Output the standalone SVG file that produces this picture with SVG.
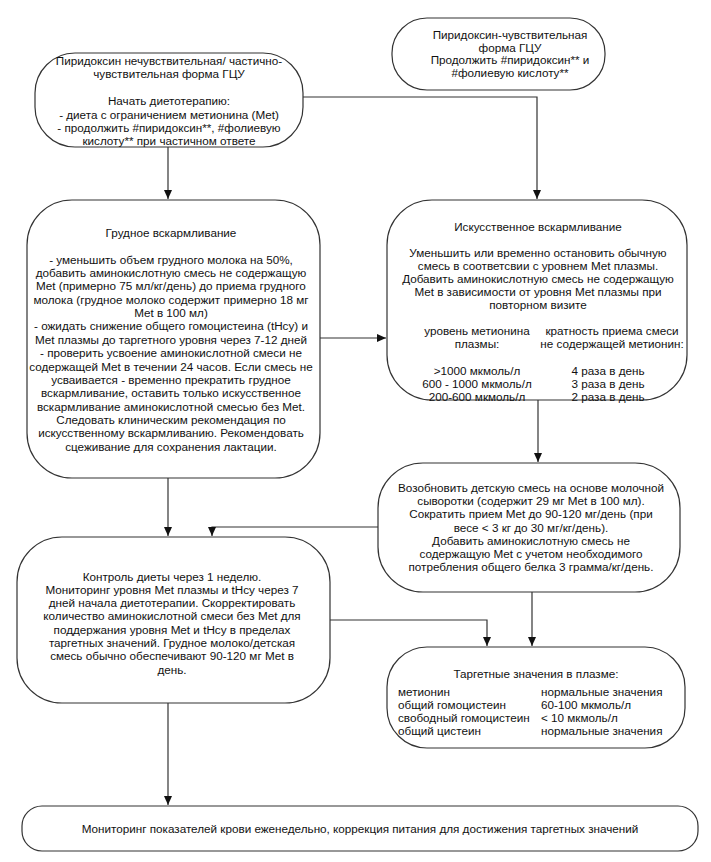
<svg xmlns="http://www.w3.org/2000/svg" width="711" height="862" viewBox="0 0 711 862">
<defs>
<style>
.n{fill:#fff;stroke:#333;stroke-width:1.2}
.t{font-family:"Liberation Sans",Arial,Helvetica,sans-serif;font-size:11.7px;fill:#111;text-anchor:middle}
.l{font-family:"Liberation Sans",Arial,Helvetica,sans-serif;font-size:11.7px;fill:#111;text-anchor:start}
.c{fill:none;stroke:#333;stroke-width:1.2}
</style>
<marker id="a" markerUnits="userSpaceOnUse" markerWidth="10" markerHeight="8" refX="9" refY="4" orient="auto">
<path d="M0,0 L9,4 L0,8 z" fill="#111"/>
</marker>
</defs>
<rect width="711" height="862" fill="#fff"/>
<g id="connectors">
<path class="c" d="M168,147 V199" marker-end="url(#a)"/>
<path class="c" d="M303,97 H537 V199" marker-end="url(#a)"/>
<path class="c" d="M320,338 H386" marker-end="url(#a)"/>
<path class="c" d="M538,400 V462" marker-end="url(#a)"/>
<path class="c" d="M168,478 V536" marker-end="url(#a)"/>
<path class="c" d="M378,527 H212 V536" marker-end="url(#a)"/>
<path class="c" d="M330,620 H487 V646" marker-end="url(#a)"/>
<path class="c" d="M532,592 V646" marker-end="url(#a)"/>
<path class="c" d="M168,703 V805" marker-end="url(#a)"/>
</g>
<g id="n1">
<rect class="n" x="35" y="53" width="268" height="94" rx="40" ry="40"/>
<text class="t" x="169" y="65"><tspan x="169">Пиридоксин нечувствительная/ частично-</tspan><tspan x="169" dy="13.4">чувствительная форма ГЦУ</tspan><tspan x="169" dy="26.8">Начать диетотерапию:</tspan><tspan x="169" dy="13.4">- диета с ограничением метионина (Met)</tspan><tspan x="169" dy="13.4">- продолжить #пиридоксин**, #фолиевую</tspan><tspan x="169" dy="13.4">кислоту** при частичном ответе</tspan></text>
</g>
<g id="n2">
<rect class="n" x="392" y="18" width="213" height="72" rx="35" ry="35"/>
<text class="t" x="510" y="39"><tspan x="510">Пиридоксин-чувствительная</tspan><tspan x="510" dy="12.7">форма ГЦУ</tspan><tspan x="510" dy="12.7">Продолжить #пиридоксин** и</tspan><tspan x="510" dy="12.7">#фолиевую кислоту**</tspan></text>
</g>
<g id="n3">
<rect class="n" x="27" y="200" width="293" height="278" rx="45" ry="45"/>
<text class="t" x="171" y="237"><tspan x="171">Грудное вскармливание</tspan><tspan x="171" dy="26.7">- уменьшить объем грудного молока на 50%,</tspan><tspan x="171" dy="13.35">добавить аминокислотную смесь не содержащую</tspan><tspan x="171" dy="13.35">Met (примерно 75 мл/кг/день) до приема грудного</tspan><tspan x="171" dy="13.35">молока (грудное молоко содержит примерно 18 мг</tspan><tspan x="171" dy="13.35">Met в 100 мл)</tspan><tspan x="171" dy="13.35">- ожидать снижение общего гомоцистеина (tHcy) и</tspan><tspan x="171" dy="13.35">Met плазмы до таргетного уровня через 7-12 дней</tspan><tspan x="171" dy="13.35">- проверить усвоение аминокислотной смеси не</tspan><tspan x="171" dy="13.35">содержащей Met в течении 24 часов. Если смесь не</tspan><tspan x="171" dy="13.35">усваивается - временно прекратить грудное</tspan><tspan x="171" dy="13.35">вскармливание, оставить только искусственное</tspan><tspan x="171" dy="13.35">вскармливание аминокислотной смесью без Met.</tspan><tspan x="171" dy="13.35">Следовать клиническим рекомендация по</tspan><tspan x="171" dy="13.35">искусственному вскармливанию. Рекомендовать</tspan><tspan x="171" dy="13.35">сцеживание для сохранения лактации.</tspan></text>
</g>
<g id="n4">
<rect class="n" x="387" y="200" width="300" height="200" rx="45" ry="45"/>
<text class="t" x="538" y="230.5"><tspan x="538">Искусственное вскармливание</tspan><tspan x="538" dy="26.2">Уменьшить или временно остановить обычную</tspan><tspan x="538" dy="13.1">смесь в соответсвии с уровнем Met плазмы.</tspan><tspan x="538" dy="13.1">Добавить аминокислотную смесь не содержащую</tspan><tspan x="538" dy="13.1">Met в зависимости от уровня Met плазмы при</tspan><tspan x="538" dy="13.1">повторном визите</tspan></text>
<text class="t" x="477" y="335.3"><tspan x="477">уровень метионина</tspan><tspan x="477" dy="13.1">плазмы:</tspan><tspan x="477" dy="26.2">&gt;1000 мкмоль/л</tspan><tspan x="477" dy="13.1">600 - 1000 мкмоль/л</tspan><tspan x="477" dy="13.1">200-600 мкмоль/л</tspan></text>
<text class="t" x="612" y="335.3"><tspan x="612">кратность приема смеси</tspan><tspan x="612" dy="13.1">не содержащей метионин:</tspan><tspan x="608" dy="26.2">4 раза в день</tspan><tspan x="608" dy="13.1">3 раза в день</tspan><tspan x="608" dy="13.1">2 раза в день</tspan></text>
</g>
<g id="n5">
<rect class="n" x="378" y="463" width="302" height="129" rx="45" ry="45"/>
<text class="t" x="531" y="492.2"><tspan x="531">Возобновить детскую смесь на основе молочной</tspan><tspan x="531" dy="13.1">сыворотки (содержит 29 мг Met в 100 мл).</tspan><tspan x="531" dy="13.1">Сократить прием Met до 90-120 мг/день (при</tspan><tspan x="531" dy="13.1">весе &lt; 3 кг до 30 мг/кг/день).</tspan><tspan x="531" dy="13.1">Добавить аминокислотную смесь не</tspan><tspan x="531" dy="13.1">содержащую Met с учетом необходимого</tspan><tspan x="531" dy="13.1">потребления общего белка 3 грамма/кг/день.</tspan></text>
</g>
<g id="n6">
<rect class="n" x="17" y="537" width="313" height="166" rx="45" ry="45"/>
<text class="t" x="172" y="580.5"><tspan x="172">Контроль диеты через 1 неделю.</tspan><tspan x="172" dy="13.3">Мониторинг уровня Met плазмы и tHcy через 7</tspan><tspan x="172" dy="13.3">дней начала диетотерапии. Скорректировать</tspan><tspan x="172" dy="13.3">количество аминокислотной смеси без Met для</tspan><tspan x="172" dy="13.3">поддержания уровня Met и tHcy в пределах</tspan><tspan x="172" dy="13.3">таргетных значений. Грудное молоко/детская</tspan><tspan x="172" dy="13.3">смесь обычно обеспечивают 90-120 мг Met в</tspan><tspan x="172" dy="13.3">день.</tspan></text>
</g>
<g id="n7">
<rect class="n" x="387" y="647" width="298" height="101" rx="40" ry="40"/>
<text class="t" x="536" y="678">Таргетные значения в плазме:</text>
<text class="l" x="398" y="696"><tspan x="398">метионин</tspan><tspan x="398" dy="13">общий гомоцистеин</tspan><tspan x="398" dy="13">свободный гомоцистеин</tspan><tspan x="398" dy="13">общий цистеин</tspan></text>
<text class="l" x="541" y="696"><tspan x="541">нормальные значения</tspan><tspan x="541" dy="13">60-100 мкмоль/л</tspan><tspan x="541" dy="13">&lt; 10 мкмоль/л</tspan><tspan x="541" dy="13">нормальные значения</tspan></text>
</g>
<g id="n8">
<rect class="n" x="22" y="806" width="676" height="45" rx="20" ry="20"/>
<text class="t" x="360" y="832.5">Мониторинг показателей крови еженедельно, коррекция питания для достижения таргетных значений</text>
</g>
</svg>
